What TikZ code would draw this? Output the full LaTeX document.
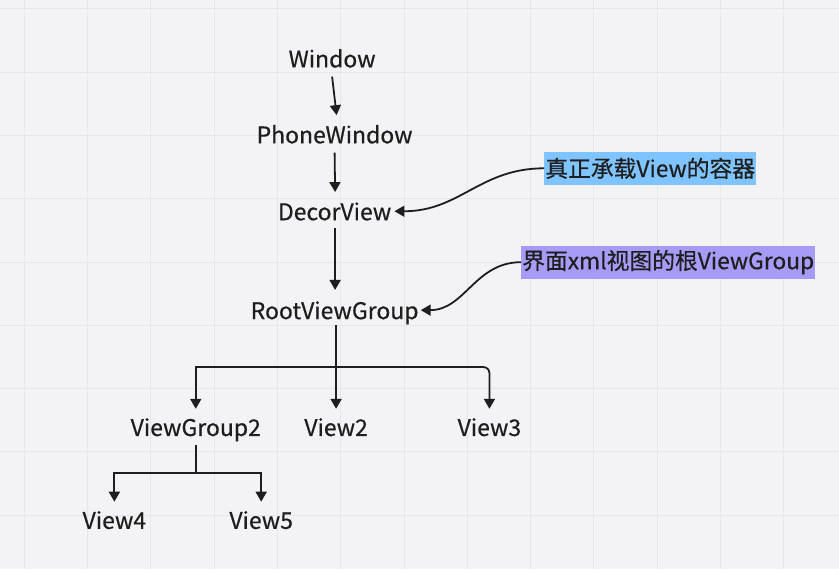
\documentclass[tikz,border=0pt]{standalone}
\usepackage{fontspec}
\setmainfont{Noto Sans CJK SC}
\newfontfamily\medfont{Noto Sans CJK SC}[FakeBold=0.5]
\usetikzlibrary{arrows.meta}
\definecolor{bg}{RGB}{243,243,245}
\definecolor{gridc}{RGB}{231,231,234}
\definecolor{ink}{RGB}{30,30,30}
\definecolor{lblblue}{RGB}{128,196,255}
\definecolor{lblpurple}{RGB}{166,156,247}
\begin{document}
\begin{tikzpicture}[x=1pt,y=-1pt,
  item/.style={font=\fontsize{23}{27}\selectfont\medfont, text=ink, inner sep=0pt, anchor=base, text height=18pt, text depth=5pt},
  lbl/.style={font=\fontsize{22.8}{26}\selectfont\medfont, text=ink, inner xsep=1pt, inner ysep=0pt, minimum height=33pt},
  ln/.style={draw=ink, line width=1.8pt},
  conn/.style={ln, -{Triangle[length=10pt,width=11pt]}}]
\fill[bg] (0,0) rectangle (839,569);
\foreach \i in {0,...,12} \draw[gridc, line width=1pt] ({24+63.33*\i},0) -- ({24+63.33*\i},569);
\foreach \j in {0,...,8} \draw[gridc, line width=1pt] (0,{8.5+63.33*\j}) -- (839,{8.5+63.33*\j});
\useasboundingbox (0,0) rectangle (839,569);

\node[item] (win) at (332,67) {Window};
\node[item] (pw) at (334.5,143) {PhoneWindow};
\node[item] (dv) at (334.5,220) {DecorView};
\node[item] (rvg) at (334.5,319) {RootViewGroup};
\node[item] (vg2) at (195.5,436) {ViewGroup2};
\node[item] (v2) at (336,436) {View2};
\node[item] (v3) at (489.5,436) {View3};
\node[item] (v4) at (114,529) {View4};
\node[item] (v5) at (261,529) {View5};

\node[lbl, fill=lblblue, minimum width=211pt] (l1) at (650.5,168) {真正承载View的容器};
\node[lbl, fill=lblpurple, minimum width=292pt] (l2) at (668.5,262) {界面xml视图的根ViewGroup};

\draw[conn] ([yshift=-4pt]win.south) -- ([yshift=10pt,xshift=2pt]pw.north);
\draw[conn] ([yshift=-4pt]pw.south) -- ([yshift=10pt,xshift=0.5pt]dv.north);
\draw[conn] ([yshift=-3pt,xshift=0.5pt]dv.south) -- ([yshift=11pt,xshift=0.5pt]rvg.north);

\coordinate (j1) at (336,367);
\draw[ln] ([xshift=1.5pt,yshift=-1pt]rvg.south) -- (j1);
\draw[conn] (j1) -| ([yshift=9pt]vg2.north);
\draw[conn] (j1) -- ([yshift=9pt]v2.north);
\draw[conn, rounded corners=6pt] (j1) -| ([yshift=9pt]v3.north);

\coordinate (j2) at (195.5,473);
\draw[ln] ([yshift=-4pt]vg2.south) -- (j2);
\draw[conn] (j2) -| ([yshift=9pt]v4.north);
\draw[conn] (j2) -| ([yshift=9pt]v5.north);

\draw[conn] (l1.west) .. controls (480,168) and (460,211) .. ([xshift=3pt,yshift=2.5pt]dv.east);
\draw[conn] (l2.west) .. controls (475,262) and (465,310) .. ([xshift=2pt,yshift=2.5pt]rvg.east);
\end{tikzpicture}
\end{document}
